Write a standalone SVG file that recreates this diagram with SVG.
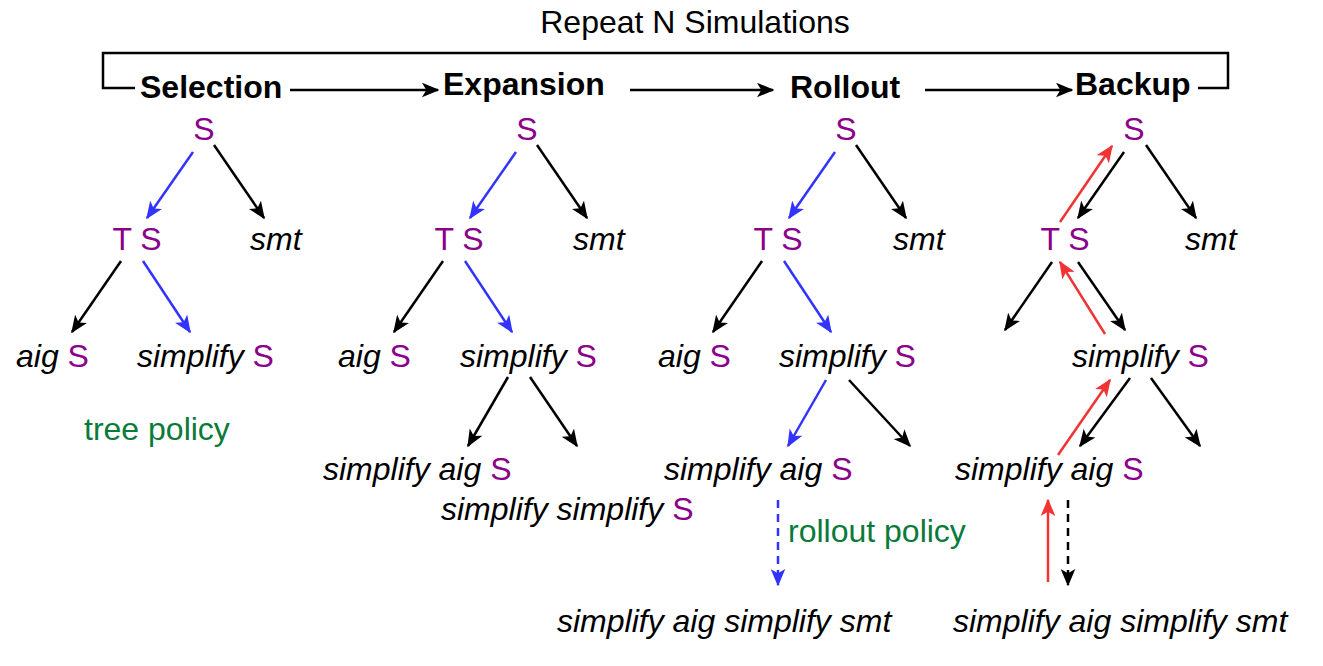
<svg xmlns="http://www.w3.org/2000/svg" width="1323" height="666" viewBox="0 0 1323 666">
<style>
text{font-family:"Liberation Sans",Arial,sans-serif;font-size:32px}
.h{font-weight:bold;font-size:32px}
.i{font-style:italic}
.p{fill:#8B008B;font-style:normal}
.g{fill:#0a7a3a}
.k{stroke:#000;stroke-width:2.5;fill:none;marker-end:url(#mk)}
.b{stroke:#3333ff;stroke-width:2.5;fill:none;marker-end:url(#mb)}
.r{stroke:#f03333;stroke-width:2.5;fill:none;marker-end:url(#mr)}
.d{stroke-dasharray:8 6}
</style>
<defs>
<marker id="mk" viewBox="0 0 12 10" refX="11" refY="5" markerWidth="7" markerHeight="6" markerUnits="strokeWidth" orient="auto"><path d="M0,0 L12,5 L0,10 L3,5z" fill="#000"/></marker>
<marker id="mb" viewBox="0 0 12 10" refX="11" refY="5" markerWidth="7" markerHeight="6" markerUnits="strokeWidth" orient="auto"><path d="M0,0 L12,5 L0,10 L3,5z" fill="#3333ff"/></marker>
<marker id="mr" viewBox="0 0 12 10" refX="11" refY="5" markerWidth="7" markerHeight="6" markerUnits="strokeWidth" orient="auto"><path d="M0,0 L12,5 L0,10 L3,5z" fill="#f03333"/></marker>
</defs>
<rect width="1323" height="666" fill="#fff"/>
<g id="title"><text x="695" y="33" text-anchor="middle">Repeat N Simulations</text></g>
<g id="stages">
<text class="h" x="140" y="98">Selection</text>
<text class="h" x="443" y="95">Expansion</text>
<text class="h" x="790" y="98">Rollout</text>
<text class="h" x="1075" y="95">Backup</text>
</g>
<g id="nodes">
<g id="t1">
<text class="p" x="204" y="140" text-anchor="middle">S</text>
<text class="p" x="137" y="250" text-anchor="middle">T S</text>
<text class="i" x="250" y="250">smt</text>
<text class="i" x="16" y="367">aig <tspan class="p">S</tspan></text>
<text class="i" x="137" y="367">simplify <tspan class="p">S</tspan></text>
<text class="g" x="84" y="440">tree policy</text>
</g>
<g id="t2">
<text class="p" x="527" y="140" text-anchor="middle">S</text>
<text class="p" x="459" y="250" text-anchor="middle">T S</text>
<text class="i" x="573" y="250">smt</text>
<text class="i" x="338" y="367">aig <tspan class="p">S</tspan></text>
<text class="i" x="460" y="367">simplify <tspan class="p">S</tspan></text>
<text class="i" x="323" y="480">simplify aig <tspan class="p">S</tspan></text>
<text class="i" x="441" y="520">simplify simplify <tspan class="p">S</tspan></text>
</g>
<g id="t3">
<text class="p" x="846" y="140" text-anchor="middle">S</text>
<text class="p" x="778" y="250" text-anchor="middle">T S</text>
<text class="i" x="893" y="250">smt</text>
<text class="i" x="658" y="367">aig <tspan class="p">S</tspan></text>
<text class="i" x="779" y="367">simplify <tspan class="p">S</tspan></text>
<text class="i" x="664" y="480">simplify aig <tspan class="p">S</tspan></text>
<text class="g" x="788" y="542">rollout policy</text>
<text class="i" x="557" y="632">simplify aig simplify smt</text>
</g>
<g id="t4">
<text class="p" x="1134" y="140" text-anchor="middle">S</text>
<text class="p" x="1065" y="250" text-anchor="middle">T S</text>
<text class="i" x="1185" y="250">smt</text>
<text class="i" x="1072" y="367">simplify <tspan class="p">S</tspan></text>
<text class="i" x="955" y="480">simplify aig <tspan class="p">S</tspan></text>
<text class="i" x="953" y="632">simplify aig simplify smt</text>
</g>
</g>
<g id="connectors">
<path d="M135,88 H103 V53 H1228 V88 H1198" stroke="#000" stroke-width="2.5" fill="none"/>
<path class="k" d="M290,90 H438"/>
<path class="k" d="M630,90 H773"/>
<path class="k" d="M925,90 H1072"/>
<path class="b" d="M193,152 L147,218"/>
<path class="k" d="M214,145 L264,218"/>
<path class="k" d="M121,261 L72,332"/>
<path class="b" d="M143,261 L190,332"/>
<path class="b" d="M516,152 L470,218"/>
<path class="k" d="M537,145 L587,218"/>
<path class="k" d="M443,261 L394,332"/>
<path class="b" d="M465,261 L512,332"/>
<path class="k" d="M508,377 L468,446"/>
<path class="k" d="M530,377 L577,446"/>
<path class="b" d="M835,152 L789,218"/>
<path class="k" d="M856,145 L906,218"/>
<path class="k" d="M762,261 L713,332"/>
<path class="b" d="M784,261 L831,332"/>
<path class="b" d="M826,380 L788,446"/>
<path class="k" d="M849,380 L910,446"/>
<path class="b d" d="M778,500 L778,585"/>
<path class="k" d="M1124,152 L1078,218"/>
<path class="k" d="M1146,145 L1196,218"/>
<path class="r" d="M1060,222 L1112,146"/>
<path class="k" d="M1052,262 L1005,330"/>
<path class="k" d="M1078,262 L1125,330"/>
<path class="r" d="M1105,334 L1060,262"/>
<path class="k" d="M1130,378 L1080,446"/>
<path class="k" d="M1151,378 L1200,446"/>
<path class="r" d="M1058,455 L1110,380"/>
<path class="r" d="M1048,582 L1048,500"/>
<path class="k d" d="M1068,500 L1068,585"/>
</g>
</svg>
